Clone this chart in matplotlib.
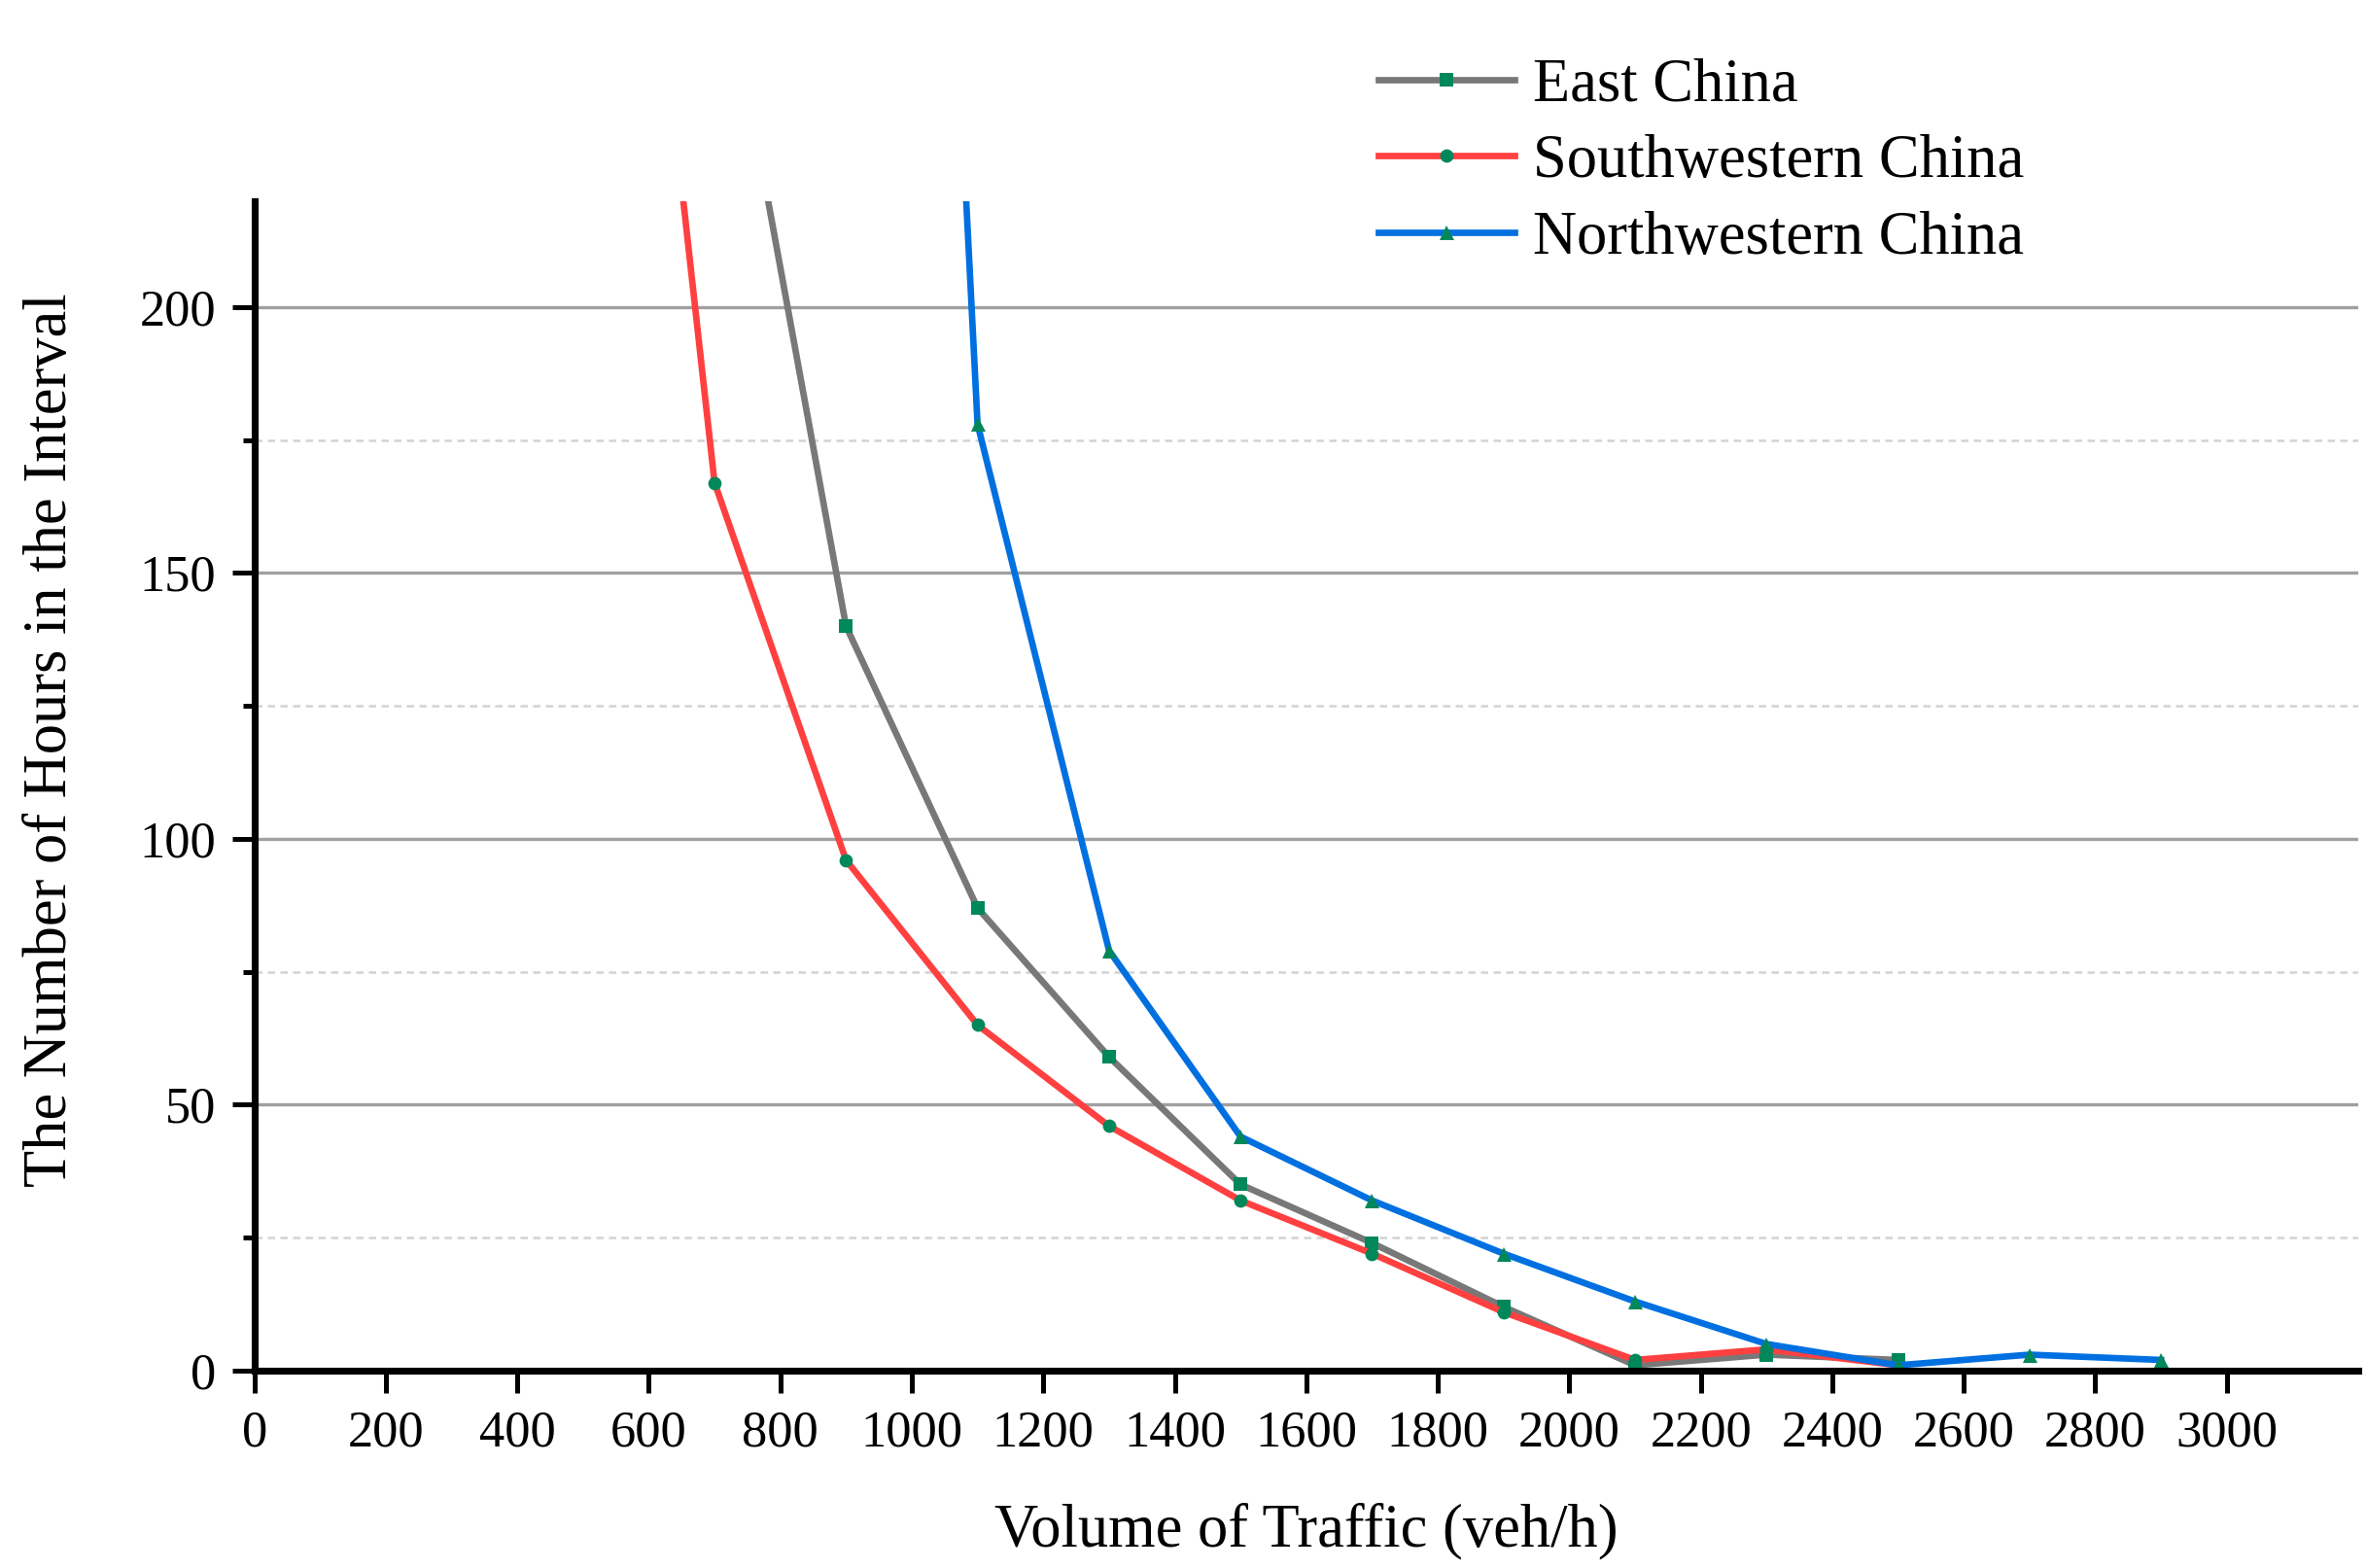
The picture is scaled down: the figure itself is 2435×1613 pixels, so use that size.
import matplotlib.pyplot as plt
from matplotlib.ticker import MultipleLocator

plt.rcParams['font.family'] = ['Liberation Serif', 'DejaVu Serif']
plt.rcParams['mathtext.fontset'] = 'stix'

# (bin centres, veh/h)
x_east = [700, 900, 1100, 1300, 1500, 1700, 1900, 2100, 2300, 2500]
east = [275, 140, 87, 59, 35, 24, 12, 1, 3, 2]

x_sw = [500, 700, 900, 1100, 1300, 1500, 1700, 1900, 2100, 2300, 2500]
southwest = [390, 167, 96, 65, 46, 32, 22, 11, 2, 4, 1]

x_nw = [900, 1100, 1300, 1500, 1700, 1900, 2100, 2300, 2500, 2700, 2900]
northwest = [665, 178, 79, 44, 32, 22, 13, 5, 1, 3, 2]

labels = ['East China', 'Southwestern China', 'Northwestern China']
x_ticks = list(range(0, 3001, 200))
y_ticks = [0, 50, 100, 150, 200]

mk_color = '#00875A'

fig = plt.figure(figsize=(2436 / 300, 1613 / 300), dpi=300)
ax = fig.add_axes([0.1074, 0.1259, 0.8885, 0.7460])

ax.plot(x_east, east, color='#787878', lw=1.6, marker='s', ms=3.2,
        mfc=mk_color, mec=mk_color, mew=0, label=labels[0])
ax.plot(x_sw, southwest, color='#FF4040', lw=1.6, marker='o', ms=3.3,
        mfc=mk_color, mec=mk_color, mew=0, label=labels[1])
ax.plot(x_nw, northwest, color='#0070E0', lw=1.6, marker='^', ms=3.6,
        mfc=mk_color, mec=mk_color, mew=0, label=labels[2])

ax.set_xlim(0, 3200)
ax.set_ylim(0, 220)
ax.set_xticks(x_ticks)
ax.set_yticks(y_ticks)
ax.yaxis.set_minor_locator(MultipleLocator(25))

ax.grid(which='major', axis='y', color='#A0A0A0', lw=0.8)
ax.grid(which='minor', axis='y', color='#D3D3D3', lw=0.6, linestyle=(0, (3, 2.2)))
ax.set_axisbelow(True)

for s in ['top', 'right']:
    ax.spines[s].set_visible(False)
for s in ['left', 'bottom']:
    ax.spines[s].set_linewidth(1.7)

ax.tick_params(which='major', direction='out', length=5.5, width=1.2, labelsize=12.6)
ax.tick_params(axis='x', pad=4.3)
ax.tick_params(axis='y', pad=4.0)
ax.tick_params(which='minor', axis='y', direction='out', length=2.9, width=1.2)

ax.set_xlabel('Volume of Traffic (veh/h)', fontsize=15)
ax.set_ylabel('The Number of Hours in the Interval', fontsize=15)
ax.xaxis.set_label_coords(0.5, -0.113)
ax.yaxis.set_label_coords(-0.083, 0.539)

ax.legend(loc='upper left', bbox_to_anchor=(0.582, 0.963), bbox_transform=fig.transFigure,
          frameon=False, fontsize=15, handlelength=2.24, handletextpad=0.3,
          labelspacing=0.33, borderpad=0, borderaxespad=0)

fig.savefig('out.png', dpi=300)
